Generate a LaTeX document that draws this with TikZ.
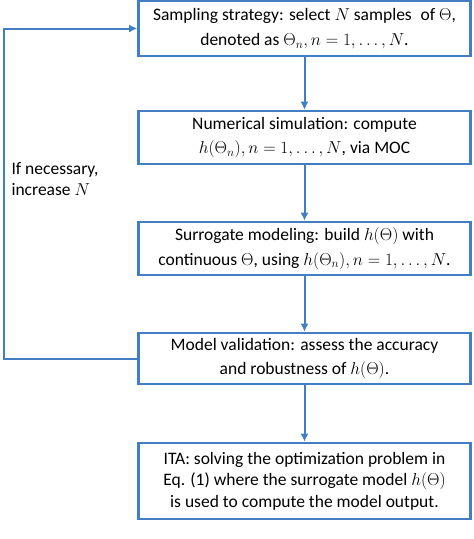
\documentclass[tikz,border=0pt]{standalone}
\usepackage{fontspec}
\setmainfont{Carlito}
\usepackage{amsmath}
\usetikzlibrary{arrows.meta, positioning}
\definecolor{FlowBlue}{RGB}{66,126,196}

\begin{document}
\begin{tikzpicture}[x=1pt, y=1pt, font=\fontsize{17.5}{21.5}\selectfont,
	box/.style={rectangle, draw=FlowBlue, line width=2.6pt, fill=white, minimum width=332pt, inner sep=2pt, align=center},
	ln/.style={line width=2pt, FlowBlue, -{Latex[length=8pt, width=8pt]}}]
	\useasboundingbox (0,0) rectangle (474,-539);
	\node[box, minimum height=55pt] (samp) at (304.5,-28.5) {Sampling strategy: select $N$ samples\enspace of $\Theta$,\\[4pt] denoted as $\Theta_n, n=1,\ldots,N$.};
	\node[box, minimum height=53pt] (sim) at (304.5,-137.5) {Numerical simulation: compute\\[3pt] $h(\Theta_n), n=1,\ldots,N$, via MOC};
	\node[box, minimum height=53pt] (surr) at (304.5,-248.5) {Surrogate modeling: build $h(\Theta)$ with\\[3pt] continuous $\Theta$, using $h(\Theta_n), n=1,\ldots,N$.};
	\node[box, minimum height=51pt] (valid) at (304.5,-358.5) {Model validation: assess the accuracy\\[3pt] and robustness of $h(\Theta)$.};
	\node[box, minimum height=76pt] (ita) at (304.5,-481) {ITA: solving the optimization problem in\\ Eq. (1) where the surrogate model $h(\Theta)$\\ is used to compute the model output.};
	\node[align=left, anchor=west] (incr) at (8,-179) {If necessary,\\ increase $N$};
	\coordinate (lb) at (3.5,-358.5);
	\coordinate (lt) at (3.5,-28.5);
	\draw[ln] (samp) -- (sim);
	\draw[ln] (sim) -- (surr);
	\draw[ln] (surr) -- (valid);
	\draw[ln] (valid) -- (ita);
	\draw[ln] (valid.west) -- (lb) -- (lt) -- (samp.west);
\end{tikzpicture}
\end{document}
